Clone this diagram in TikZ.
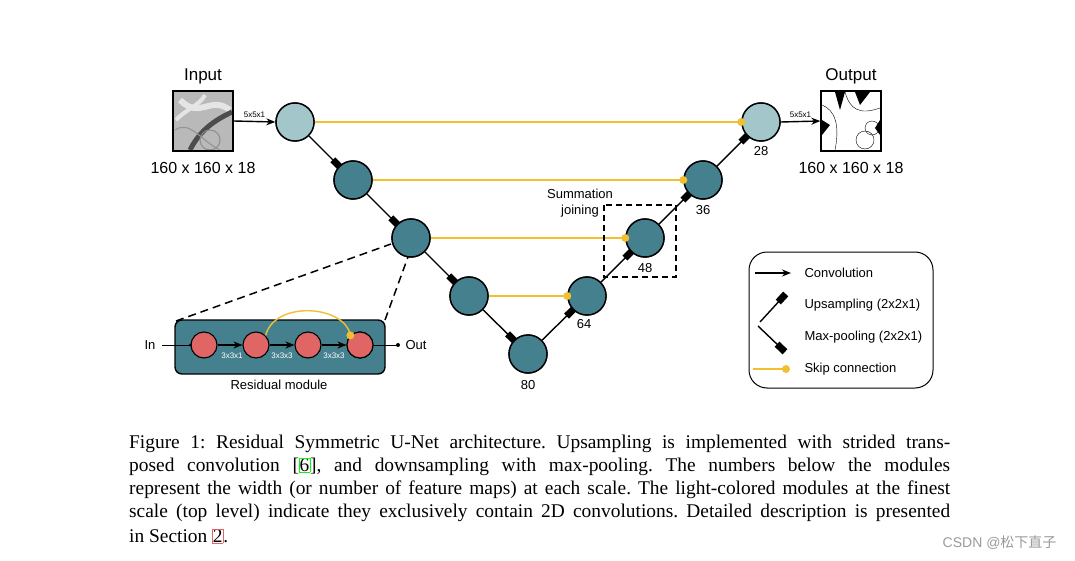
\documentclass[tikz,border=0pt]{standalone}
\usepackage{fontspec}
\setmainfont{Liberation Serif}
\newfontfamily\sans{Liberation Sans}
\newfontfamily\cjk{Noto Sans CJK SC}
\usetikzlibrary{shapes.geometric,arrows.meta}
\definecolor{teal}{HTML}{45808F}
\definecolor{light}{HTML}{A3C6CA}
\definecolor{skip}{HTML}{F2BE32}
\definecolor{red}{HTML}{E06666}
\begin{document}
\frenchspacing
\begin{tikzpicture}[x=1pt,y=-1pt,
  mod/.style={circle,draw,line width=1.4pt,minimum size=38pt,inner sep=0pt,fill=teal},
  lmod/.style={mod,fill=light},
  rmod/.style={circle,draw,line width=1.1pt,minimum size=26pt,inner sep=0pt,fill=red},
  conn/.style={line width=1.4pt},
  dia/.style={rectangle,fill=black,inner sep=0pt,minimum width=11pt,minimum height=7pt,sloped},
  skipl/.style={skip,line width=1.4pt},
  dot/.style={circle,fill=skip,inner sep=0pt,minimum size=8pt},
  conv/.style={line width=1.4pt,-{Stealth[length=9pt,width=7pt]}},
  lbl/.style={font=\sans\fontsize{16}{16}\selectfont},
  sm/.style={font=\sans\fontsize{8}{8}\selectfont},
  leg/.style={font=\sans\fontsize{13}{13}\selectfont}]
\useasboundingbox (0,0) rectangle (1075,561);
% modules
\node[lmod] (n1) at (295,122) {};
\node[mod] (n2) at (353,180) {};
\node[mod] (n3) at (411,238) {};
\node[mod] (n4) at (469,296) {};
\node[mod] (n5) at (528,354) {};
\node[mod] (u4) at (587,296) {};
\node[mod] (u3) at (645,238) {};
\node[mod] (u2) at (703,180) {};
\node[lmod] (u1) at (761,122) {};
% images
\node[draw,line width=1.4pt,minimum size=60pt,inner sep=0pt,fill=gray!55] (in) at (203,121) {};
\begin{scope}
\clip (174,92) rectangle (232,150);
\draw[gray!20,line width=6pt] (180,100) .. controls (200,120) and (210,95) .. (230,110);
\draw[black!70,line width=5pt] (190,150) .. controls (200,130) and (215,120) .. (232,112);
\draw[gray!85,line width=1pt] (175,130) .. controls (190,120) and (200,140) .. (220,150);
\draw[white!80!gray,line width=4pt] (176,120) .. controls (185,110) and (200,105) .. (205,95);
\draw[gray!90,line width=1pt] (210,140) circle (10pt);
\end{scope}
\node[draw,line width=1.4pt,minimum size=60pt,inner sep=0pt,fill=none] (out) at (851,121) {};
\begin{scope}
\clip (822,92) rectangle (880,150);
\fill (835,92) -- (845,92) -- (840,110) -- cycle;
\fill (855,92) -- (870,92) -- (860,105) -- cycle;
\fill (822,120) -- (830,125) -- (822,135) -- cycle;
\draw (822,105) .. controls (835,110) and (840,125) .. (835,150);
\draw (845,92) .. controls (850,110) and (860,115) .. (880,108);
\draw (865,140) circle (9pt); \draw (872,128) circle (7pt);
\fill (880,120) -- (875,128) -- (880,135) -- cycle;
\end{scope}
\node[font=\sans\fontsize{17}{17}\selectfont] (tin) at (203,76) {Input};
\node[lbl] (sin) at (203,168) {160 x 160 x 18};
\node[font=\sans\fontsize{17}{17}\selectfont] (tout) at (851,76) {Output};
\node[lbl] (sout) at (851,168) {160 x 160 x 18};
\draw[conv] (in.east) -- node[sm,above]{5x5x1} (n1.west);
\draw[conv] (u1.east) -- node[sm,above]{5x5x1} (out.west);
% skips
\foreach \a/\b in {n1/u1,n2/u2,n3/u3,n4/u4}{
  \draw[skipl] (\a.east) -- (\b.west);}
% down/up
\foreach \a/\b in {n1/n2,n2/n3,n3/n4,n4/n5,n5/u4,u4/u3,u3/u2,u2/u1}{
  \draw[conn] (\a) -- (\b);
  \path (\a.center) -- (\b.center) node[pos=0.72,dia] {};
}
\node[lmod] at (n1) {}; \node[lmod] at (u1) {};
\foreach \n in {n2,n3,n4,n5,u4,u3,u2}{\node[mod] at (\n) {};}
\foreach \b in {u1,u2,u3,u4}{\node[dot] at (\b.west) {};}
% numbers
\node[leg] (l80) at (528,385) {80};
\node[leg] (l64) at (584,324) {64};
\node[leg] (l48) at (645,268) {48};
\node[leg] (l36) at (703,210) {36};
\node[leg] (l28) at (761,151) {28};
% summation
\draw[line width=1.4pt,dash pattern=on 6pt off 4pt] (604,205) rectangle (676,277);
\node[font=\sans\fontsize{13}{16}\selectfont,align=center] (sj) at (580,203) {Summation\\joining};
% residual module
\draw[line width=1.5pt,dash pattern=on 8pt off 5pt] (176,321) -- (391,244);
\draw[line width=1.5pt,dash pattern=on 8pt off 5pt] (385,320) -- (408,257);
\draw[rounded corners=7pt,line width=1.4pt,fill=teal] (175,320) rectangle (385,374);
\node[rmod] (r1) at (204,345) {};
\node[rmod] (r2) at (256,345) {};
\node[rmod] (r3) at (308,345) {};
\node[rmod] (r4) at (360,345) {};
\node[leg] (tIn) at (150,345) {In};
\node[leg,anchor=west] (tOut) at (402,345) {Out};
\coordinate (ci) at (162,345); \coordinate (co) at (398,345);
\draw[line width=1pt] (ci) -- (r1.west);
\fill (r1.west) circle (1.5pt);
\draw[conv,line width=1.1pt] (r1) -- (r2);
\draw[conv,line width=1.1pt] (r2) -- (r3);
\draw[conv,line width=1.1pt] (r3) -- (r4);
\draw[line width=1pt] (r4.east) -- (co); \fill (co) circle (2pt);
\node[sm,white] at (232,356) {3x3x1};
\node[sm,white] at (282,356) {3x3x3};
\node[sm,white] at (334,356) {3x3x3};
\draw[skipl] (r2.north east) .. controls (275,300) and (345,305) .. (r4.north west);
\node[rmod] at (r4) {}; \node[dot] at (r4.north west) {};
\node[leg] (rm) at (279,385) {Residual module};
% legend
\draw[rounded corners=18pt,line width=1pt] (749,252) rectangle (933,388);
\coordinate (a1) at (755,273); \coordinate (a2) at (791,273);
\draw[conv] (a1) -- (a2);
\coordinate (b1) at (760,322); \coordinate (b2) at (782,298);
\draw[conn] (b1) -- (b2) node[dia,pos=1]{};
\coordinate (c1) at (758,326); \coordinate (c2) at (781,348);
\draw[conn] (c1) -- (c2) node[dia,pos=1]{};
\coordinate (d1) at (753,369); \coordinate (d2) at (786,369);
\draw[skipl] (d1) -- (d2) node[dot]{};
\node[leg,anchor=west] at (801,273) {Convolution};
\node[leg,anchor=west] at (801,305) {Upsampling (2x2x1)};
\node[leg,anchor=west] at (801,337) {Max-pooling (2x2x1)};
\node[leg,anchor=west] at (801,369) {Skip connection};
% caption
\tikzset{captxt/.style={anchor=west,inner sep=0pt,font=\fontsize{19.4}{20}\selectfont}}
\newcommand\cbox[2]{\fcolorbox{#1}{white}{#2}}
\setlength{\fboxsep}{0.3pt}
\node[captxt] at (129,444) {\makebox[821pt][s]{Figure 1: Residual Symmetric U-Net architecture. Upsampling is implemented with strided trans-}};
\node[captxt] at (129,467) {\makebox[821pt][s]{posed convolution [\cbox{green}{6}], and downsampling with max-pooling. The numbers below the modules}};
\node[captxt] at (129,490) {\makebox[821pt][s]{represent the width (or number of feature maps) at each scale. The light-colored modules at the finest}};
\node[captxt] at (129,513) {\makebox[821pt][s]{scale (top level) indicate they exclusively contain 2D convolutions. Detailed description is presented}};
\node[captxt] at (129,536) {in Section \cbox{red}{2}.};
\node[font=\sans\fontsize{14}{14}\selectfont,text=gray!80,anchor=east] at (1060,543) {CSDN @\cjk 松下直子};
\end{tikzpicture}
\end{document}
